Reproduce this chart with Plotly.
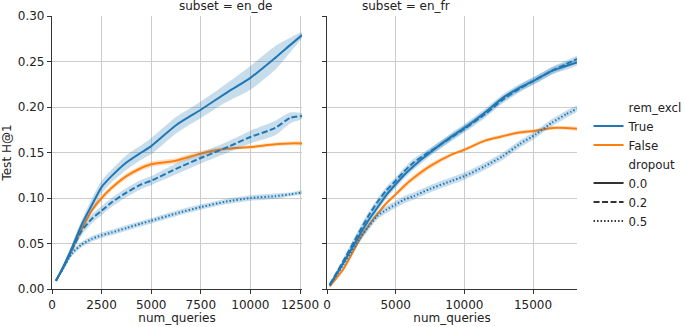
import plotly.graph_objects as go
from plotly.subplots import make_subplots

# ---------------- data ----------------
subsets = ["en_de", "en_fr"]

x_de = [200, 600, 1000, 1500, 2000, 2500, 3000, 3750, 4500, 5000, 6250, 7500, 8750, 10000, 11250, 12000, 12600]
de_true_00 = [0.009, 0.026, 0.045, 0.071, 0.092, 0.112, 0.124, 0.139, 0.150, 0.157, 0.180, 0.197, 0.215, 0.232, 0.254, 0.268, 0.279]
de_true_00_ci = [0.001, 0.003, 0.004, 0.005, 0.007, 0.007, 0.007, 0.008, 0.008, 0.009, 0.009, 0.009, 0.010, 0.013, 0.013, 0.008, 0.003]
de_false_00 = [0.009, 0.025, 0.043, 0.066, 0.086, 0.100, 0.111, 0.124, 0.133, 0.137, 0.141, 0.149, 0.154, 0.156, 0.159, 0.160, 0.160]
de_false_00_ci = [0.001, 0.002, 0.003, 0.003, 0.003, 0.003, 0.003, 0.003, 0.003, 0.003, 0.003, 0.003, 0.002, 0.002, 0.002, 0.002, 0.002]
de_true_02 = [0.009, 0.025, 0.043, 0.064, 0.077, 0.086, 0.095, 0.106, 0.115, 0.119, 0.132, 0.144, 0.155, 0.167, 0.177, 0.188, 0.190]
de_true_02_ci = [0.001, 0.003, 0.004, 0.005, 0.005, 0.005, 0.005, 0.005, 0.005, 0.005, 0.006, 0.006, 0.006, 0.007, 0.008, 0.006, 0.003]
de_true_05 = [0.009, 0.024, 0.039, 0.049, 0.055, 0.059, 0.062, 0.067, 0.072, 0.075, 0.083, 0.090, 0.096, 0.100, 0.102, 0.104, 0.106]
de_true_05_ci = [0.001, 0.002, 0.003, 0.003, 0.003, 0.003, 0.003, 0.003, 0.003, 0.003, 0.003, 0.003, 0.003, 0.003, 0.003, 0.002, 0.002]

x_fr = [200, 1200, 2400, 3000, 3650, 4300, 5000, 5600, 6300, 7500, 9100, 10000, 11500, 12800, 14000, 15200, 16400, 17400, 18200]
fr_true_00 = [0.004, 0.029, 0.060, 0.075, 0.089, 0.103, 0.115, 0.125, 0.135, 0.150, 0.168, 0.177, 0.194, 0.210, 0.221, 0.230, 0.240, 0.245, 0.249]
fr_true_00_ci = [0.001, 0.003, 0.004, 0.004, 0.004, 0.004, 0.004, 0.004, 0.004, 0.004, 0.004, 0.004, 0.004, 0.004, 0.004, 0.004, 0.004, 0.004, 0.003]
fr_false_00 = [0.003, 0.022, 0.055, 0.069, 0.082, 0.094, 0.104, 0.113, 0.122, 0.135, 0.148, 0.153, 0.163, 0.168, 0.172, 0.174, 0.177, 0.177, 0.176]
fr_false_00_ci = [0.001, 0.002, 0.002, 0.002, 0.002, 0.002, 0.002, 0.003, 0.003, 0.003, 0.002, 0.002, 0.002, 0.002, 0.002, 0.002, 0.002, 0.002, 0.002]
fr_true_02 = [0.005, 0.031, 0.064, 0.080, 0.095, 0.108, 0.119, 0.129, 0.139, 0.151, 0.167, 0.176, 0.192, 0.208, 0.220, 0.230, 0.240, 0.247, 0.253]
fr_true_02_ci = [0.001, 0.003, 0.004, 0.004, 0.004, 0.004, 0.004, 0.004, 0.004, 0.004, 0.004, 0.004, 0.004, 0.004, 0.004, 0.004, 0.004, 0.004, 0.003]
fr_true_05 = [0.004, 0.027, 0.056, 0.068, 0.080, 0.087, 0.093, 0.098, 0.102, 0.110, 0.119, 0.124, 0.135, 0.146, 0.159, 0.170, 0.183, 0.192, 0.198]
fr_true_05_ci = [0.001, 0.003, 0.004, 0.004, 0.004, 0.004, 0.004, 0.004, 0.004, 0.004, 0.004, 0.004, 0.004, 0.004, 0.004, 0.004, 0.004, 0.004, 0.003]

x_max = [12600, 18200]
x_ticks = [[0, 2500, 5000, 7500, 10000, 12500], [0, 5000, 10000, 15000]]
y_ticks = [0.00, 0.05, 0.10, 0.15, 0.20, 0.25, 0.30]

BLUE = "#1f77b4"
ORANGE = "#ff7f0e"
FILL = {BLUE: "rgba(31,119,180,0.25)", ORANGE: "rgba(255,127,14,0.25)"}
DASH = {"0.0": "solid", "0.2": "6px,2.5px", "0.5": "1.5px,2px"}

series = [
    # (col, x, y, ci, color, dropout)
    (1, x_de, de_false_00, de_false_00_ci, ORANGE, "0.0"),
    (1, x_de, de_true_05, de_true_05_ci, BLUE, "0.5"),
    (1, x_de, de_true_02, de_true_02_ci, BLUE, "0.2"),
    (1, x_de, de_true_00, de_true_00_ci, BLUE, "0.0"),
    (2, x_fr, fr_false_00, fr_false_00_ci, ORANGE, "0.0"),
    (2, x_fr, fr_true_05, fr_true_05_ci, BLUE, "0.5"),
    (2, x_fr, fr_true_02, fr_true_02_ci, BLUE, "0.2"),
    (2, x_fr, fr_true_00, fr_true_00_ci, BLUE, "0.0"),
]

FONT = "DejaVu Sans"
fig = make_subplots(rows=1, cols=2, shared_yaxes=True, horizontal_spacing=25 / 525)

for col, xs, ys, ci, color, dp in series:
    lo = [v - c for v, c in zip(ys, ci)]
    hi = [v + c for v, c in zip(ys, ci)]
    fig.add_trace(go.Scatter(x=xs + xs[::-1], y=hi + lo[::-1], fill="toself",
                             fillcolor=FILL[color], line=dict(width=0, shape="spline", smoothing=0.6),
                             mode="lines", showlegend=False, hoverinfo="skip"),
                  row=1, col=col)
    fig.add_trace(go.Scatter(x=xs, y=ys, mode="lines",
                             line=dict(color=color, width=2, dash=DASH[dp], shape="spline", smoothing=0.6),
                             showlegend=False),
                  row=1, col=col)

# legend entries
legend_items = [
    ("rem_excl", "rgba(0,0,0,0)", "solid"),
    ("True", BLUE, "solid"),
    ("False", ORANGE, "solid"),
    ("dropout", "rgba(0,0,0,0)", "solid"),
    ("0.0", "#333333", "solid"),
    ("0.2", "#333333", DASH["0.2"]),
    ("0.5", "#333333", DASH["0.5"]),
]
for name, c, d in legend_items:
    fig.add_trace(go.Scatter(x=[None], y=[None], mode="lines", name=name,
                             line=dict(color=c, width=2, dash=d), showlegend=True),
                  row=1, col=1)

axis_common = dict(showgrid=True, gridcolor="#cccccc", gridwidth=1,
                   showline=True, linecolor="#333333", linewidth=1.2,
                   ticks="outside", ticklen=4, tickcolor="#333333", tickwidth=1.2,
                   zeroline=False, automargin=False,
                   tickfont=dict(size=12, color="#222222", family=FONT))

for i in range(2):
    fig.update_xaxes(range=[0, x_max[i]], tickvals=x_ticks[i],
                     ticktext=[str(t) for t in x_ticks[i]],
                     title=dict(text="num_queries", font=dict(size=12, color="#222222", family=FONT), standoff=0),
                     row=1, col=i + 1, **axis_common)
    fig.update_yaxes(range=[0, 0.30], tickvals=y_ticks,
                     ticktext=["%.2f" % t for t in y_ticks],
                     row=1, col=i + 1, **axis_common)

fig.update_yaxes(title=dict(text="Test H@1", font=dict(size=12, color="#222222", family=FONT), standoff=6),
                 row=1, col=1)
fig.update_yaxes(showticklabels=False, row=1, col=2)

for i, s in enumerate(subsets):
    dom = fig.layout["xaxis" if i == 0 else "xaxis2"].domain
    fig.add_annotation(text="subset = " + s, x=(dom[0] + dom[1]) / 2, y=1.0,
                       xref="paper", yref="paper", yanchor="bottom", yshift=1,
                       showarrow=False, font=dict(size=12, color="#222222", family=FONT))

fig.update_layout(
    width=685, height=327,
    margin=dict(l=52, r=108, t=16, b=38, autoexpand=False),
    paper_bgcolor="white", plot_bgcolor="white",
    font=dict(family=FONT, size=12, color="#222222"),
    legend=dict(x=1.022, y=0.72, xanchor="left", yanchor="top",
                font=dict(size=11.8, family=FONT, color="#222222"),
                tracegroupgap=0, itemwidth=30, bgcolor="rgba(0,0,0,0)"),
)

fig.write_html("out.html", config={"displayModeBar": False},
               post_script="document.body.style.margin='0px';document.body.style.padding='0px';")
